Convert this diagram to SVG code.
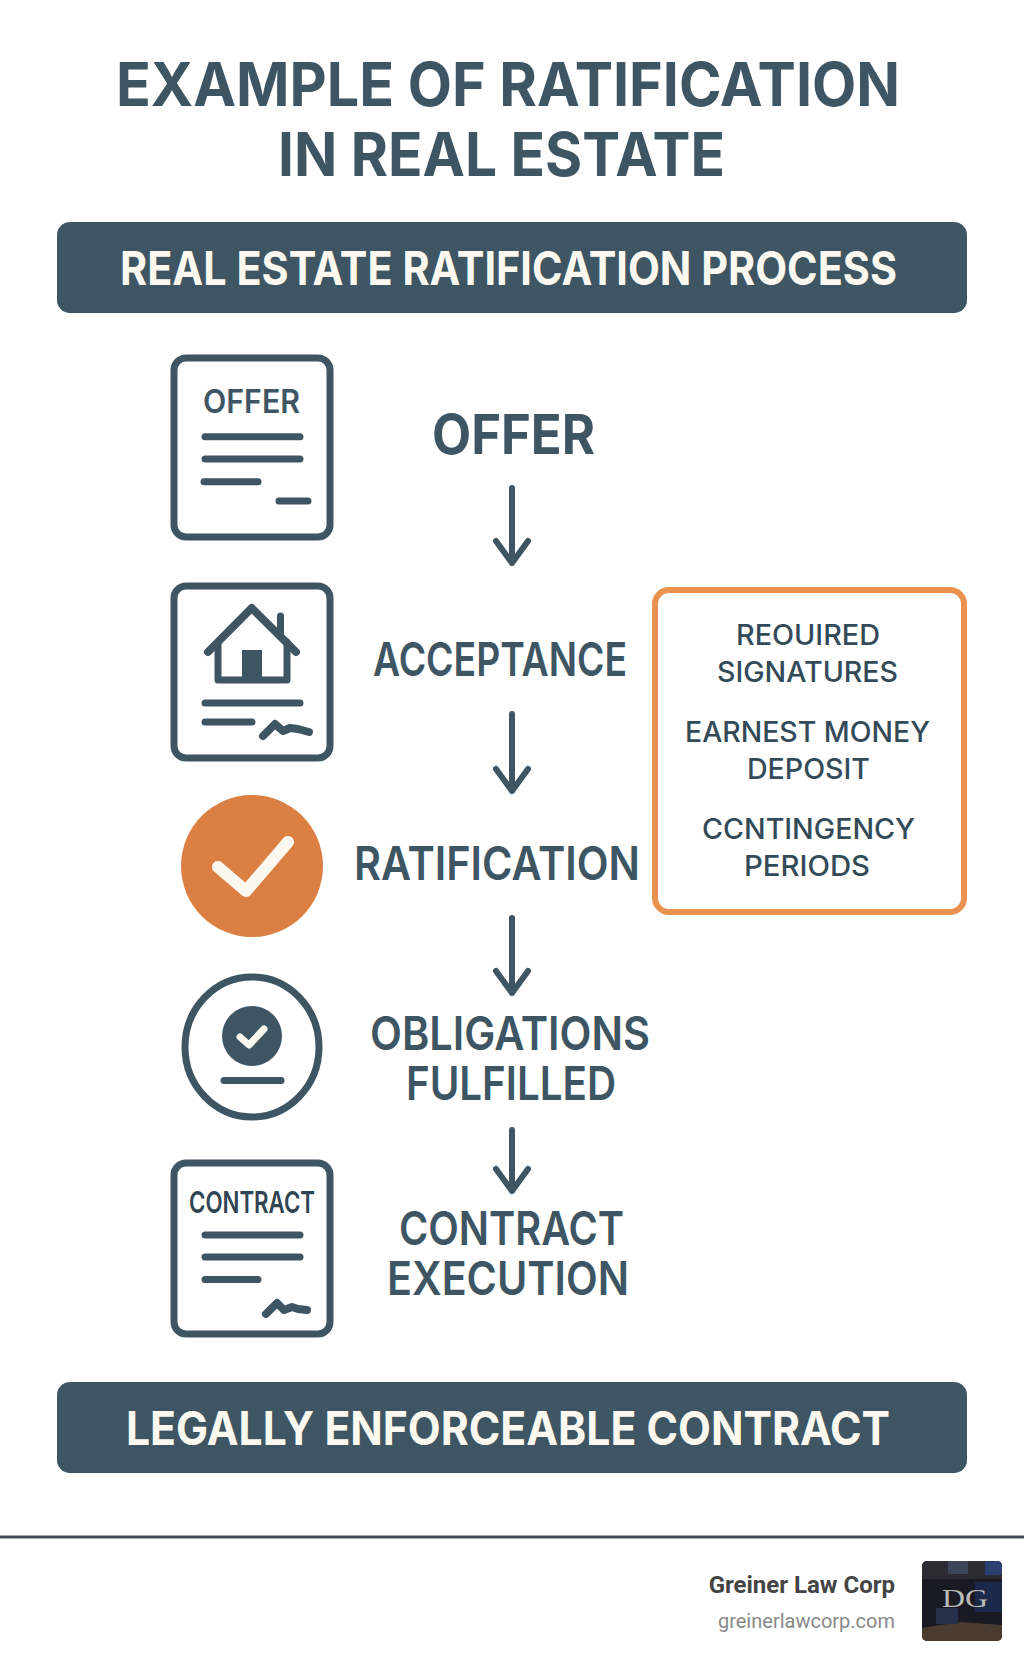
<svg xmlns="http://www.w3.org/2000/svg" width="1024" height="1666" viewBox="0 0 1024 1666">
<style>
text{font-family:Inter,"Noto Sans","Liberation Sans",sans-serif;fill:#3E5564}
.title{font-size:61px;font-weight:700}
.band{font-size:46px;font-weight:700;fill:#FBF8EF}
.step{font-size:47px;font-weight:600}
.note{font-size:28px;font-weight:500;fill:#334B59}
.ln{fill:none;stroke:#3E5564;stroke-width:7;stroke-linecap:round;stroke-linejoin:round}
.sig{fill:none;stroke:#3E5564;stroke-width:8;stroke-linecap:round;stroke-linejoin:round}
.arrow{fill:none;stroke:#3E5564;stroke-width:6;stroke-linecap:round;stroke-linejoin:round}
.bar{fill:#3E5564}
</style>
<rect width="1024" height="1666" fill="#fff"/>
<g id="title">
<text class="title" x="116" y="106" textLength="784" lengthAdjust="spacingAndGlyphs">EXAMPLE OF RATIFICATION</text>
<text class="title" x="278" y="176" textLength="447" lengthAdjust="spacingAndGlyphs">IN REAL ESTATE</text>
</g>
<g id="banner-top">
<rect class="bar" x="57" y="222" width="910" height="91" rx="13"/>
<text class="band" x="120" y="285" textLength="777" lengthAdjust="spacingAndGlyphs">REAL ESTATE RATIFICATION PROCESS</text>
</g>
<g id="icon-offer">
<rect class="ln" x="174" y="358" width="156" height="179" rx="12"/>
<text x="203" y="413" font-size="32" font-weight="600" textLength="97" lengthAdjust="spacingAndGlyphs">OFFER</text>
<path class="ln" d="M205 436.700H300M205 459H300M204 481.700H258M279 501H308"/>
</g>
<g id="step-offer"><text class="step" x="432" y="454" style="font-size:55px;font-weight:700" textLength="163" lengthAdjust="spacingAndGlyphs">OFFER</text></g>
<g id="icon-acceptance">
<rect class="ln" x="174" y="586" width="156" height="172" rx="12"/>
<path class="sig" d="M208 652L251.700 608L296 652"/>
<path class="ln" d="M218 642V680H287V642M280.500 636V616"/>
<rect class="bar" x="242" y="650" width="20" height="30"/>
<path class="ln" d="M205 703H300M205 722H252"/>
<path class="sig" d="M263 736L275 724L283 731L290 728L298 729L309 732"/>
</g>
<g id="step-acceptance"><text class="step" x="373" y="676" textLength="254" lengthAdjust="spacingAndGlyphs">ACCEPTANCE</text></g>
<g id="icon-ratification">
<circle cx="252" cy="866" r="71" fill="#DC7F42"/>
<path d="M218 867L246 891L288 842" fill="none" stroke="#FBF8EF" stroke-width="12" stroke-linecap="round" stroke-linejoin="round"/>
</g>
<g id="step-ratification"><text class="step" x="354" y="880" textLength="286" lengthAdjust="spacingAndGlyphs">RATIFICATION</text></g>
<g id="note">
<rect x="655" y="590" width="309" height="322" rx="14" fill="#fff" stroke="#E9914F" stroke-width="6"/>
<text class="note" x="736" y="645" textLength="144" lengthAdjust="spacingAndGlyphs">REOUIRED</text>
<text class="note" x="717" y="682" textLength="181" lengthAdjust="spacingAndGlyphs">SIGNATURES</text>
<text class="note" x="685" y="742" textLength="245" lengthAdjust="spacingAndGlyphs">EARNEST MONEY</text>
<text class="note" x="747" y="779" textLength="123" lengthAdjust="spacingAndGlyphs">DEPOSIT</text>
<text class="note" x="702" y="839" textLength="213" lengthAdjust="spacingAndGlyphs">CCNTINGENCY</text>
<text class="note" x="744" y="876" textLength="126" lengthAdjust="spacingAndGlyphs">PERIODS</text>
</g>
<g id="icon-obligations">
<ellipse class="ln" cx="252" cy="1047" rx="67" ry="70"/>
<circle class="bar" cx="252" cy="1036" r="30"/>
<path d="M240 1037L249 1045L264 1029" fill="none" stroke="#FBF8EF" stroke-width="7" stroke-linecap="round" stroke-linejoin="round"/>
<path class="ln" d="M224 1080.500H281"/>
</g>
<g id="step-obligations">
<text class="step" x="370" y="1050" textLength="280" lengthAdjust="spacingAndGlyphs">OBLIGATIONS</text>
<text class="step" x="406" y="1100" textLength="210" lengthAdjust="spacingAndGlyphs">FULFILLED</text>
</g>
<g id="icon-contract">
<rect class="ln" x="174" y="1163" width="156" height="171" rx="12"/>
<text x="189" y="1213" font-size="30" font-weight="600" style="fill:#2F4553" textLength="126" lengthAdjust="spacingAndGlyphs">CONTRACT</text>
<path class="ln" d="M205 1235H300M205 1257H300M205 1279.500H258"/>
<path class="sig" d="M266 1314L277 1303L284 1310L292 1307L298 1309L307 1310"/>
</g>
<g id="step-contract">
<text class="step" x="399" y="1245" textLength="225" lengthAdjust="spacingAndGlyphs">CONTRACT</text>
<text class="step" x="387" y="1295" textLength="242" lengthAdjust="spacingAndGlyphs">EXECUTION</text>
</g>
<g id="banner-bottom">
<rect class="bar" x="57" y="1382" width="910" height="91" rx="13"/>
<text class="band" x="126" y="1445" textLength="764" lengthAdjust="spacingAndGlyphs">LEGALLY ENFORCEABLE CONTRACT</text>
</g>
<g id="connectors">
<path class="arrow" d="M512 488V563M496 541L512 563L528 541"/>
<path class="arrow" d="M512 714V791M496 769L512 791L528 769"/>
<path class="arrow" d="M512 918V993M496 971L512 993L528 971"/>
<path class="arrow" d="M512 1130V1191M496 1169L512 1191L528 1169"/>
</g>
<g id="footer">
<rect x="0" y="1535.500" width="1024" height="3" fill="#454A55"/>
<text x="895" y="1593" text-anchor="end" style="font-family:Roboto,sans-serif;font-size:24px;font-weight:700;fill:#444">Greiner Law Corp</text>
<text x="895" y="1628" text-anchor="end" style="font-family:Roboto,sans-serif;font-size:20px;font-weight:400;fill:#888">greinerlawcorp.com</text>
<clipPath id="logo-clip"><rect x="922" y="1561" width="80" height="80" rx="5"/></clipPath>
<g clip-path="url(#logo-clip)">
<rect x="922" y="1561" width="80" height="80" fill="#1A1A24"/>
<rect x="922" y="1561" width="80" height="18" fill="#2C2A33"/>
<rect x="948" y="1561" width="20" height="13" fill="#3C4658"/>
<rect x="985" y="1561" width="17" height="14" fill="#2B3F70"/>
<rect x="975" y="1582" width="27" height="30" fill="#1B2A4A"/>
<path d="M922 1641V1628L960 1622L1002 1625V1641Z" fill="#4A3B2E"/>
<rect x="936" y="1608" width="22" height="16" fill="#27304A"/>
<text x="942" y="1607" style="font-family:'Liberation Serif',serif;font-size:26px;fill:#BDBDB8" textLength="46" lengthAdjust="spacingAndGlyphs">DG</text>
</g>
</g>
</svg>
